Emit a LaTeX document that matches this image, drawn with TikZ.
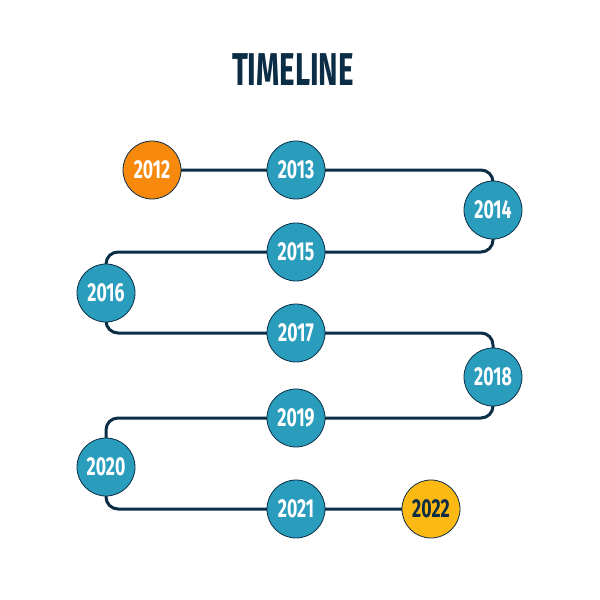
\documentclass[tikz,border=0pt]{standalone}
\usepackage{fontspec}
\usetikzlibrary{backgrounds}
\newfontfamily\yearfont{Fira Sans}[FakeStretch=0.68]
\newfontfamily\titlefont{Fira Sans}[FakeStretch=0.64]
\definecolor{navy}{HTML}{0B2D45}
\definecolor{teal}{HTML}{2A9DBD}
\definecolor{orangeY}{HTML}{F7890C}
\definecolor{yellowY}{HTML}{FDB913}
\tikzset{
  year/.style={circle, draw=navy, line width=0.8pt, fill=teal, minimum size=58pt, inner sep=0pt,
    text=white, font=\yearfont\bfseries\fontsize{26}{26}\selectfont},
  track/.style={draw=navy, line width=3pt, rounded corners=12pt},
}
\begin{document}
\begin{tikzpicture}[x=1pt,y=-1pt]
\useasboundingbox (0,0) rectangle (600,600);
\node[text=navy, font=\titlefont\bfseries\fontsize{46}{46}\selectfont] (title) at (293,70) {TIMELINE};
% corner coordinates
\coordinate (c1) at (493,170);
\coordinate (c2) at (493,252);
\coordinate (c3) at (106,252);
\coordinate (c4) at (106,333);
\coordinate (c5) at (493,333);
\coordinate (c6) at (493,418);
\coordinate (c7) at (106,418);
\coordinate (c8) at (106,509);
% nodes
\node[year, fill=orangeY] (y2012) at (152,170) {2012};
\node[year] (y2013) at (296,170) {2013};
\node[year] (y2014) at (493,210) {2014};
\node[year] (y2015) at (296,252) {2015};
\node[year] (y2016) at (106,293) {2016};
\node[year] (y2017) at (296,333) {2017};
\node[year] (y2018) at (493,377) {2018};
\node[year] (y2019) at (296,418) {2019};
\node[year] (y2020) at (106,467) {2020};
\node[year] (y2021) at (296,509) {2021};
\node[year, fill=yellowY, text=navy] (y2022) at (431,509) {2022};
% track
\begin{scope}[on background layer]
\draw[track] (y2012.center) -- (y2013.center) -- (c1) -- (y2014.center) -- (c2) -- (y2015.center) -- (c3)
  -- (y2016.center) -- (c4) -- (y2017.center) -- (c5) -- (y2018.center) -- (c6) -- (y2019.center) -- (c7)
  -- (y2020.center) -- (c8) -- (y2021.center) -- (y2022.center);
\end{scope}
\end{tikzpicture}
\end{document}
